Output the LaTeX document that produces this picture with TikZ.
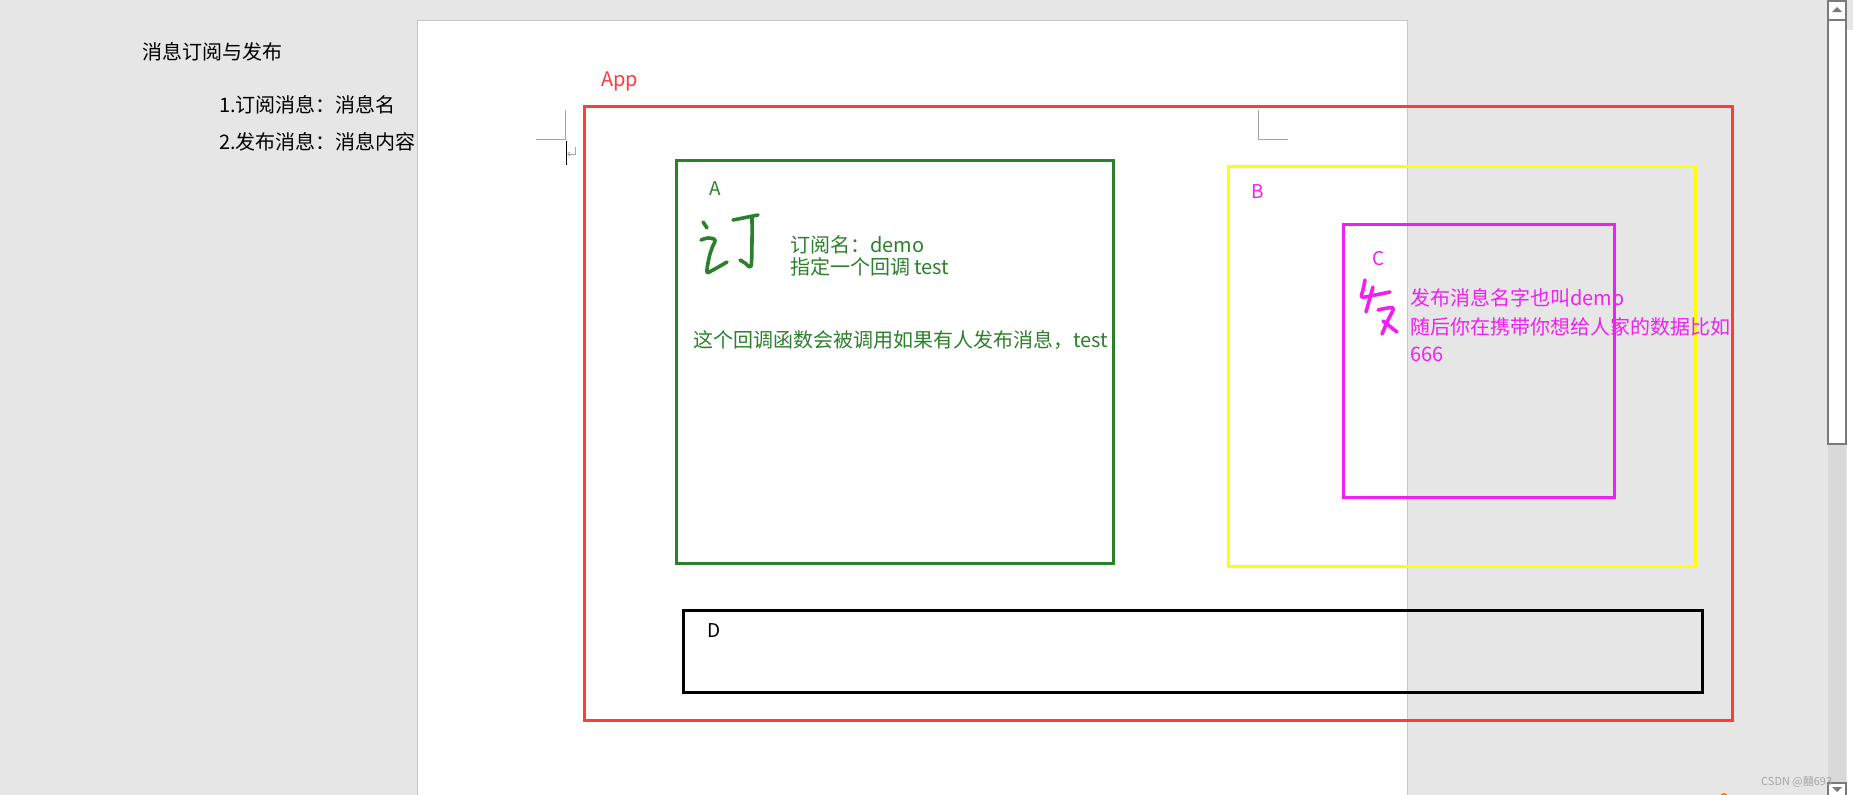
\documentclass[tikz,border=0pt]{standalone}
\usepackage{fontspec}
\setmainfont{Noto Sans CJK SC}
\usetikzlibrary{arrows.meta}
\definecolor{bg}{RGB}{230,230,230}
\definecolor{pageline}{RGB}{198,198,198}
\definecolor{appred}{RGB}{255,60,60}
\definecolor{agreen}{RGB}{44,128,44}
\definecolor{byellow}{RGB}{255,255,0}
\definecolor{cmag}{RGB}{240,32,240}
\definecolor{markgray}{RGB}{165,165,165}
\definecolor{sbgray}{RGB}{122,122,122}
\definecolor{track}{RGB}{217,217,217}
\tikzset{
  box/.style={draw, line width=3pt, inner sep=0pt, outer sep=0pt, anchor=north west},
  txt/.style={inner sep=0pt, outer sep=0pt, anchor=base west, font=\fontsize{20}{22}\selectfont},
  lbl/.style={inner sep=0pt, outer sep=0pt, anchor=base west, font=\fontsize{19}{21}\selectfont},
  hand/.style={line width=3.6pt, line cap=round, line join=round},
  sbline/.style={draw=sbgray, line width=1.5pt},
}
\begin{document}
\begin{tikzpicture}[x=1pt,y=-1pt]
\useasboundingbox (0,0) rectangle (1853,795);
% background and page
\fill[bg] (0,0) rectangle (1853,795);
\filldraw[fill=white, draw=pageline, line width=1pt] (417,20) rectangle (1407,800);
\fill[white] (1847,30) rectangle (1853,795);

% left texts
\node[txt] (title) at (142,59) {消息订阅与发布};
\node[txt] (item1) at (219,112) {1.订阅消息：消息名};
\node[txt] (item2) at (219,149) {2.发布消息：消息内容};

% corner marks and cursor
\coordinate (tlA) at (536,139); \coordinate (tlB) at (565,139); \coordinate (tlC) at (565,110);
\draw[markgray, line width=1pt] (tlA) -- (tlB) -- (tlC);
\coordinate (trA) at (1258,110); \coordinate (trB) at (1258,139); \coordinate (trC) at (1288,139);
\draw[markgray, line width=1pt] (trA) -- (trB) -- (trC);
\coordinate (cur1) at (566,141); \coordinate (cur2) at (566,165);
\draw[black, line width=1pt] (cur1) -- (cur2);
\coordinate (ret1) at (575,147); \coordinate (ret2) at (575,154); \coordinate (ret3) at (567,154);
\draw[markgray, line width=0.8pt, -{Straight Barb[length=2.5pt,width=4pt]}] (ret1) -- (ret2) -- (ret3);

% App box
\node[box, draw=appred, minimum width=1148pt, minimum height=614pt] (app) at (584,106) {};
\node[txt, text=appred] (applbl) at (601,86) {App};

% A box
\node[box, draw=agreen, minimum width=437pt, minimum height=403pt] (boxA) at (676,160) {};
\node[lbl, text=agreen] (lblA) at (709,195) {A};
\draw[hand, agreen] (703,222) -- (707,228);
\draw[hand, agreen] plot[smooth, tension=0.5] coordinates {(701,240) (708,238) (715,240) (712,248) (709,258) (707,272) (713,270) (727,262)};
\draw[hand, agreen] (733,220) -- (758,215);
\draw[hand, agreen] plot[smooth, tension=0.5] coordinates {(752,217) (752,240) (751,266) (745,263) (740,260)};
\node[txt, text=agreen] (subname) at (790,252) {订阅名：demo};
\node[txt, text=agreen] (callback) at (790,274) {指定一个回调 test};
\node[txt, text=agreen] (called) at (693,347) {这个回调函数会被调用如果有人发布消息，test};

% B box
\node[box, draw=byellow, minimum width=467pt, minimum height=400pt] (boxB) at (1228,166) {};
\node[lbl, text=cmag] (lblB) at (1251,198) {B};

% C box
\node[box, draw=cmag, minimum width=271pt, minimum height=273pt] (boxC) at (1343,224) {};
\node[lbl, text=cmag] (lblC) at (1372,265) {C};
\draw[hand, cmag] plot[smooth, tension=0.5] coordinates {(1365,280) (1363,290) (1362,297) (1375,295) (1390,292)};
\draw[hand, cmag] (1373,287) -- (1366,312);
\draw[hand, cmag] plot[smooth, tension=0.5] coordinates {(1378,310) (1393,308) (1388,320) (1382,334)};
\draw[hand, cmag] (1383,321) -- (1397,332);
\node[txt, text=cmag] (pub1) at (1410,305) {发布消息名字也叫demo};
\node[txt, text=cmag] (pub2) at (1410,334) {随后你在携带你想给人家的数据比如};
\node[txt, text=cmag] (pub3) at (1410,361) {666};

% D box
\node[box, draw=black, minimum width=1019pt, minimum height=82pt] (boxD) at (683,610) {};
\node[lbl, text=black] (lblD) at (707,637) {D};

% scrollbar
\draw[sbline, fill=white] (1828,1) rectangle (1846,20);
\fill[sbgray] (1832,12) -- (1842,12) -- (1837,7) -- cycle;
\draw[sbline, fill=white] (1828,20) rectangle (1846,444);
\fill[track] (1828,445) rectangle (1846,783);
\draw[sbline, fill=white] (1828,783) rectangle (1846,797);
\fill[sbgray] (1832,787) -- (1842,787) -- (1837,792) -- cycle;

% watermark
\node[inner sep=0pt, anchor=base west, text=markgray, font=\fontsize{11}{12}\selectfont] (wm) at (1761,785) {CSDN @囍693};
\fill[orange!90!red] (1724,797) circle (4);
\end{tikzpicture}
\end{document}
